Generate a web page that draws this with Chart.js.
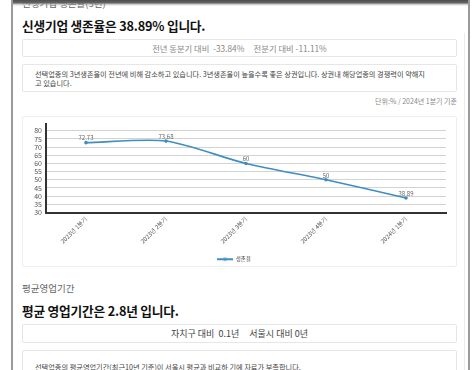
<!DOCTYPE html>
<html><head><meta charset="utf-8">
<script src="https://cdn.jsdelivr.net/npm/chart.js@4.4.1/dist/chart.umd.min.js"></script>
<style>
html,body{margin:0;padding:0;background:#fff;width:474px;height:370px;overflow:hidden;font-family:"Noto Sans CJK KR","Noto Sans",sans-serif;}
.a{position:absolute;white-space:nowrap;}
.box{position:absolute;left:22px;width:433px;border:1px solid #e6e6e6;border-radius:2px;background:#fff;}
.sub{font-size:9.5px;color:#666;line-height:12px;left:22px;}
.h{font-size:12.7px;font-weight:bold;color:#111;line-height:16px;left:22px;letter-spacing:-0.2px;}
.ctr{width:100%;text-align:center;position:absolute;left:0;}
.desc{position:absolute;left:12px;font-size:7.2px;line-height:9px;color:#444;white-space:nowrap;}
</style></head><body>
<div class="a sub" style="top:-3px;">신생기업 생존율(3년)</div>
<div class="a" style="left:11px;top:0;width:459px;height:6px;background:linear-gradient(to bottom,#4d4d4d 0,#666 3px,rgba(150,150,150,0.6) 4px,rgba(255,255,255,0) 6px);"></div>
<div class="a" style="left:11px;top:0;width:2px;height:370px;background:#9a9a9a;"></div>
<div class="a" style="left:468px;top:0;width:2px;height:370px;background:#9a9a9a;"></div>
<div class="a" style="left:464px;top:33px;width:1px;height:337px;background:#ececec;"></div>

<div class="a h" style="top:18px;">신생기업 생존율은 38.89% 입니다.</div>
<div class="box" style="top:39px;height:16px;">
  <div class="ctr" style="top:3px;font-size:8.3px;line-height:10px;color:#888;">전년 동분기 대비&nbsp;&nbsp;-33.84%&nbsp;&nbsp;&nbsp;&nbsp;&nbsp;전분기 대비 -11.11%</div>
</div>
<div class="box" style="top:64px;height:26px;">
  <div class="desc" style="top:5px;">선택업종의 3년생존율이 전년에 비해 감소하고 있습니다. 3년생존율이 높을수록 좋은 상권입니다. 상권내 해당업종의 경쟁력이 약해지<br>고 있습니다.</div>
</div>
<div class="a" style="right:17px;top:96px;font-size:7px;line-height:11px;color:#888;">단위:% / 2024년 1분기 기준</div>
<div class="box" style="top:116px;height:149px;border-color:#eeeeee;"></div>
<div class="a" style="left:22px;top:116px;width:435px;height:156px;"><canvas id="c"></canvas></div>

<div class="a sub" style="top:282px;">평균영업기간</div>
<div class="a h" style="top:303px;">평균 영업기간은 2.8년 입니다.</div>
<div class="box" style="top:324px;height:17px;">
  <div class="ctr" style="top:3px;font-size:9px;line-height:11px;color:#444;">자치구 대비&nbsp;&nbsp;0.1년&nbsp;&nbsp;&nbsp;&nbsp;&nbsp;서울시 대비 0년</div>
</div>
<div class="box" style="top:350px;height:40px;">
  <div class="desc" style="top:12px;">선택업종의 평균영업기간(최근10년 기준)이 서울시 평균과 비교하 기에 자료가 부족합니다.</div>
</div>

<script>
const categories = ['2023년 1분기', '2023년 2분기', '2023년 3분기', '2023년 4분기', '2024년 1분기'];
const survivalRates = [72.73, 73.68, 60, 50, 38.89];
const seriesName = '생존율';
const yTicks = [30, 35, 40, 45, 50, 55, 60, 65, 70, 75, 80];

const lineColor = '#3f8dc3';
Chart.defaults.font.family = '"Noto Sans CJK KR", "Noto Sans", sans-serif';

const icon = document.createElement('canvas');
icon.width = 16; icon.height = 6;
const ic = icon.getContext('2d');
ic.strokeStyle = lineColor; ic.lineWidth = 2;
ic.beginPath(); ic.moveTo(0, 3); ic.lineTo(16, 3); ic.stroke();
ic.fillStyle = lineColor; ic.fillRect(6.5, 1.5, 3, 3);

const valueLabels = {
  id: 'valueLabels',
  afterDatasetsDraw(chart) {
    const ctx = chart.ctx;
    const meta = chart.getDatasetMeta(0);
    ctx.save();
    ctx.font = '6px "Noto Sans CJK KR", sans-serif';
    ctx.fillStyle = '#666';
    ctx.textAlign = 'center';
    ctx.textBaseline = 'bottom';
    meta.data.forEach((pt, i) => {
      ctx.fillText(String(chart.data.datasets[0].data[i]), pt.x, pt.y - 1.5);
    });
    ctx.restore();
  }
};

new Chart(document.getElementById('c'), {
  type: 'line',
  data: {
    labels: categories,
    datasets: [{
      label: seriesName,
      data: survivalRates,
      borderColor: lineColor,
      backgroundColor: lineColor,
      borderWidth: 1.6,
      tension: 0.25,
      pointRadius: 1.8,
      pointHoverRadius: 2,
      pointBackgroundColor: lineColor,
      pointBorderWidth: 0,
      fill: false
    }]
  },
  options: {
    responsive: true,
    maintainAspectRatio: false,
    animation: false,
    layout: { padding: { left: 0, right: 11, top: 8, bottom: 0 } },
    plugins: {
      tooltip: { enabled: false },
      legend: {
        position: 'bottom',
        labels: {
          usePointStyle: true,
          pointStyleWidth: 16,
          boxHeight: 6,
          padding: 5,
          color: '#555',
          font: { size: 5.5 },
          generateLabels(chart) {
            return chart.data.datasets.map((ds, i) => ({
              text: ds.label, pointStyle: icon, fillStyle: lineColor,
              strokeStyle: lineColor, lineWidth: 0, datasetIndex: i, hidden: false, fontColor: '#555'
            }));
          }
        }
      }
    },
    scales: {
      x: {
        offset: true,
        grid: { display: false, drawTicks: false },
        border: { display: true, color: '#333', width: 2 },
        ticks: { minRotation: 45, maxRotation: 45, autoSkip: false, color: '#555', font: { size: 6 }, padding: 3 },
        afterFit(s) { s.height = 39; }
      },
      y: {
        min: yTicks[0],
        max: 84,
        grid: { color: '#d3d3d3', lineWidth: 1, drawTicks: false },
        border: { display: true, color: '#333', width: 2 },
        ticks: { autoSkip: false, color: '#555', font: { size: 7 }, padding: 4 },
        afterBuildTicks(s) { s.ticks = yTicks.map(v => ({ value: v })); },
        afterFit(s) { s.width = 24; }
      }
    }
  },
  plugins: [valueLabels]
});
</script>
</body></html>
